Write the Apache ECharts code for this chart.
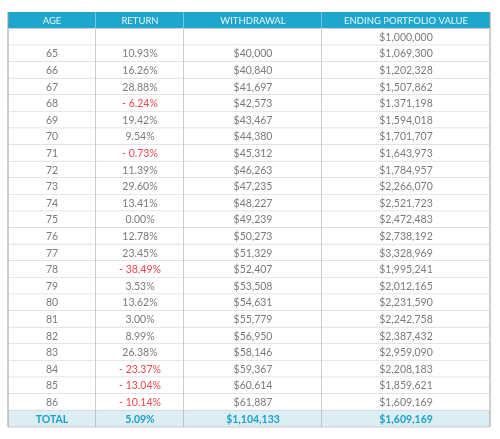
<!DOCTYPE html>
<html><head><meta charset="utf-8">
<script src="https://cdn.jsdelivr.net/npm/echarts@6/dist/echarts.min.js"></script>
<style>html,body{margin:0;padding:0;background:#fff}#c{width:500px;height:439px}</style>
</head><body><div id="c"></div>
<script>
// ---- data ----
const headers = ['AGE', 'RETURN', 'WITHDRAWAL', 'ENDING PORTFOLIO VALUE'];
const ages = [65, 66, 67, 68, 69, 70, 71, 72, 73, 74, 75, 76, 77, 78, 79, 80, 81, 82, 83, 84, 85, 86];
const returns = [10.93, 16.26, 28.88, -6.24, 19.42, 9.54, -0.73, 11.39, 29.60, 13.41, 0.00, 12.78, 23.45, -38.49, 3.53, 13.62, 3.00, 8.99, 26.38, -23.37, -13.04, -10.14];
const withdrawals = [40000, 40840, 41697, 42573, 43467, 44380, 45312, 46263, 47235, 48227, 49239, 50273, 51329, 52407, 53508, 54631, 55779, 56950, 58146, 59367, 60614, 61887];
const endingValues = [1069300, 1202328, 1507862, 1371198, 1594018, 1701707, 1643973, 1784957, 2266070, 2521723, 2472483, 2738192, 3328969, 1995241, 2012165, 2231590, 2242758, 2387432, 2959090, 2208183, 1859621, 1609169];
const startValue = 1000000;
const totalLabel = 'TOTAL';
const totalReturn = 5.09;
const totalWithdrawal = 1104133;
const totalEnding = 1609169;

// ---- layout (column edges in axis units) ----
const colEdges = [0, 88, 176, 314, 482];

const money = n => '$' + n.toLocaleString('en-US');
const pct = r => r < 0 ? '- ' + Math.abs(r).toFixed(2) + '%' : r.toFixed(2) + '%';

const cells = [];
headers.forEach((h, c) => cells.push([c, 0, h, 'head']));
cells.push([0, 1, '', 'body'], [1, 1, '', 'body'], [2, 1, '', 'body'], [3, 1, money(startValue), 'body']);
ages.forEach((a, i) => {
  const r = i + 2;
  cells.push([0, r, String(a), 'body']);
  cells.push([1, r, pct(returns[i]), returns[i] < 0 ? 'neg' : 'body']);
  cells.push([2, r, money(withdrawals[i]), 'body']);
  cells.push([3, r, money(endingValues[i]), 'body']);
});
const tr = ages.length + 2;
cells.push([0, tr, totalLabel, 'total'], [1, tr, pct(totalReturn), 'total'], [2, tr, money(totalWithdrawal), 'total'], [3, tr, money(totalEnding), 'total']);
const rowCats = Array.from({length: tr + 1}, (_, i) => String(i));

const chart = echarts.init(document.getElementById('c'));
chart.setOption({
  animation: false,
  grid: {left: 8, right: 10, top: 12, bottom: 12},
  xAxis: {type: 'value', min: 0, max: 482, show: false},
  yAxis: {type: 'category', data: rowCats, inverse: true, show: false},
  series: [{
    type: 'custom',
    data: cells,
    encode: {x: 0, y: 1},
    renderItem: function (params, api) {
      const c = api.value(0), r = api.value(1);
      const kind = cells[params.dataIndex][3];
      const text = cells[params.dataIndex][2];
      const p0 = api.coord([colEdges[c], r]);
      const p1 = api.coord([colEdges[c + 1], r]);
      const h = api.size([0, 1])[1];
      const x = p0[0], w = p1[0] - p0[0], y = p0[1] - h / 2;
      let bg = '#ffffff', fill = '#7b7b7b', font = '10.5px Lato', hLine = '#c9c9c9', vLine = '#9d9d9d';
      if (kind === 'head') { bg = '#1fa6cd'; fill = '#e8f7fc'; font = '9.5px Lato'; vLine = '#bfe6f2'; hLine = '#1fa6cd'; }
      if (kind === 'neg') { fill = '#f0474c'; }
      if (kind === 'total') { bg = '#dcedf4'; fill = '#1aa2cc'; font = 'bold 10.5px Lato'; }
      const children = [
        {type: 'rect', shape: {x: x, y: y, width: w, height: h}, style: {fill: bg}},
        {type: 'line', shape: {x1: x, y1: y + h, x2: x + w, y2: y + h}, style: {stroke: kind === 'head' ? '#9d9d9d' : hLine, lineWidth: 1}},
        {type: 'line', shape: {x1: x + w, y1: y, x2: x + w, y2: y + h}, style: {stroke: c === 3 ? '#9d9d9d' : vLine, lineWidth: 1}},
        {type: 'text', style: {text: text, x: x + w / 2, y: y + h / 2 + 0.5, align: 'center', verticalAlign: 'middle', fill: fill, font: font}}
      ];
      if (c === 0) children.push({type: 'line', shape: {x1: x, y1: y, x2: x, y2: y + h}, style: {stroke: '#9d9d9d', lineWidth: 1}});
      return {type: 'group', children: children};
    }
  }]
});
</script></body></html>
